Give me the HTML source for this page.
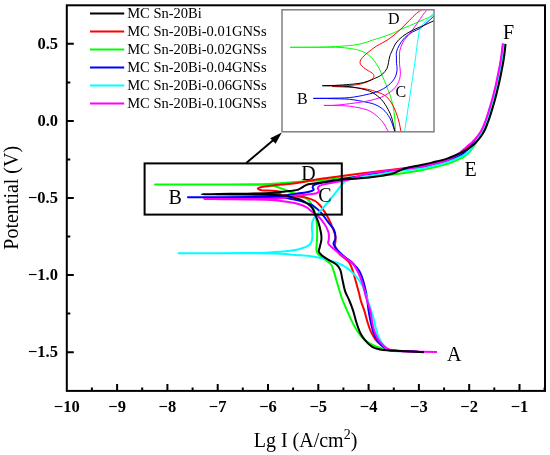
<!DOCTYPE html>
<html><head><meta charset="utf-8"><title>Polarization curves</title>
<style>
html,body{margin:0;padding:0;background:#fff;}
body{width:550px;height:455px;overflow:hidden;}
svg{display:block;}
text{font-family:"Liberation Serif","Times New Roman",serif;fill:#000;}
.tk{font-weight:bold;font-size:16.5px;}
.lg{font-size:14.5px;}
.ti{font-size:20px;}
.lb{font-size:20px;}
.il{font-size:16px;}
</style></head><body>
<svg width="550" height="455" viewBox="0 0 550 455">

<g fill="none" stroke-width="2" stroke-linejoin="round" stroke-linecap="butt">
<path stroke="#00ff00" d="M405.0 351.2C402.4 351.1 393.0 350.7 389.3 350.3C385.6 349.9 385.4 349.6 382.8 348.8C380.2 348.0 376.6 347.0 373.5 345.5C370.4 344.0 366.9 341.9 364.3 339.6C361.7 337.3 359.7 334.6 357.7 331.7C355.7 328.8 354.2 325.9 352.4 322.4C350.6 318.9 348.8 314.3 347.1 310.6C345.5 306.9 343.6 302.9 342.5 300.0C341.4 297.1 341.3 296.8 340.3 293.5C339.3 290.2 337.5 284.0 336.4 280.3C335.3 276.6 334.6 273.7 333.7 271.1C332.8 268.5 332.6 266.5 331.1 264.5C329.6 262.5 326.6 260.9 324.5 259.2C322.4 257.5 319.9 256.0 318.5 254.5C317.1 253.0 316.6 252.6 316.4 250.1C316.1 247.6 316.9 243.5 317.0 239.6C317.1 235.7 317.2 230.5 317.0 226.4C316.8 222.3 316.4 218.3 315.7 215.2C315.0 212.0 313.8 209.7 312.9 207.5C311.9 205.3 311.1 203.3 310.0 201.8C308.9 200.3 307.2 199.2 306.0 198.3C304.8 197.4 304.1 196.9 302.5 196.2C300.9 195.5 298.4 194.6 296.7 194.0C295.0 193.4 294.6 193.5 292.4 192.7C290.2 191.9 287.0 190.5 283.6 189.3C280.2 188.1 275.9 186.3 272.0 185.5C268.1 184.7 272.0 184.8 260.0 184.7C248.0 184.5 217.5 184.6 200.0 184.6C182.5 184.6 155.0 184.6 155.0 184.6C155.0 184.6 182.5 184.6 200.0 184.5C217.5 184.4 246.7 184.5 260.0 184.3C273.3 184.1 275.0 183.5 280.0 183.2C285.0 182.9 286.7 182.7 290.0 182.5C293.3 182.3 295.0 182.2 300.0 181.8C305.0 181.4 313.3 180.9 320.0 180.3C326.7 179.7 331.8 178.9 340.0 178.2C348.2 177.5 360.6 176.8 369.1 176.2C377.6 175.6 382.2 175.7 390.9 174.7C399.6 173.7 414.0 171.4 421.0 170.2C428.1 169.0 429.1 168.4 433.2 167.5C437.2 166.5 442.3 165.3 445.4 164.4C448.5 163.5 449.8 162.9 451.8 162.2C453.7 161.5 455.1 160.9 456.9 160.1C458.8 159.3 460.9 158.6 462.6 157.6C464.3 156.6 465.8 155.3 467.1 154.3C468.3 153.3 468.7 153.1 469.9 151.5C471.2 149.9 473.3 146.8 474.7 144.7C476.1 142.6 477.1 140.7 478.4 138.9C479.7 137.0 481.2 135.3 482.3 133.5C483.4 131.8 484.1 130.3 485.0 128.3C485.9 126.3 486.9 123.7 487.7 121.3C488.6 119.0 489.0 117.9 490.1 114.3C491.2 110.8 493.1 104.6 494.4 99.9C495.7 95.1 496.8 90.6 497.9 85.9C499.0 81.2 500.0 76.6 500.9 71.9C501.8 67.2 502.7 62.6 503.4 57.9C504.1 53.3 504.8 46.3 505.1 43.9"/>
<path stroke="#ff0000" d="M415.0 351.5C411.7 351.4 399.7 351.0 395.0 350.6C390.3 350.2 388.9 349.9 386.7 349.0C384.4 348.1 383.4 347.1 381.5 345.5C379.6 343.9 377.3 341.9 375.5 339.6C373.7 337.3 372.2 334.6 370.9 331.7C369.6 328.8 368.7 325.9 367.6 322.4C366.5 318.9 365.5 314.3 364.3 310.6C363.1 306.9 361.5 303.1 360.6 300.0C359.7 296.9 359.7 295.5 358.8 292.2C357.9 288.9 356.5 283.8 355.5 280.3C354.5 276.8 353.9 274.0 352.9 271.1C351.9 268.2 351.0 265.4 349.6 263.2C348.2 261.0 346.0 259.4 344.3 257.9C342.6 256.4 340.8 255.4 339.5 254.0C338.2 252.6 337.2 251.0 336.4 249.5C335.6 248.0 335.0 246.3 334.9 244.9C334.8 243.5 335.5 242.7 335.5 240.9C335.5 239.1 335.7 237.2 334.9 234.3C334.1 231.4 332.3 227.0 330.9 223.7C329.5 220.4 327.7 216.9 326.3 214.5C324.9 212.1 323.7 210.6 322.7 209.2C321.7 207.8 321.8 207.3 320.5 205.9C319.2 204.5 317.5 202.4 315.1 201.0C312.8 199.6 309.2 198.4 306.4 197.6C303.5 196.8 301.6 196.8 298.0 196.4C294.4 196.0 291.3 195.5 285.0 195.2C278.7 194.9 268.3 194.8 260.0 194.7C251.7 194.6 242.3 194.5 235.0 194.4C227.7 194.3 216.0 194.4 216.0 194.3C216.0 194.2 227.7 194.1 235.0 194.0C242.3 193.9 253.2 193.9 260.0 193.8C266.8 193.7 272.5 193.6 276.0 193.4C279.5 193.2 280.5 192.9 281.0 192.6C281.5 192.3 280.4 191.9 279.0 191.6C277.6 191.3 275.6 190.9 272.7 190.7C269.8 190.5 264.3 190.5 261.8 190.2C259.3 189.8 257.8 189.1 257.8 188.6C257.8 188.1 259.3 187.4 261.8 186.9C264.3 186.4 268.7 185.9 272.7 185.4C276.7 184.9 281.4 184.7 286.0 184.2C290.6 183.7 294.3 183.3 300.0 182.4C305.7 181.5 313.3 180.0 320.0 179.0C326.7 178.0 331.8 177.4 340.0 176.3C348.2 175.2 359.4 173.7 369.1 172.5C378.8 171.3 389.7 169.9 398.2 168.9C406.7 167.9 414.5 167.2 420.2 166.3C425.9 165.4 428.2 164.5 432.2 163.6C436.2 162.6 441.2 161.4 444.3 160.6C447.3 159.7 448.5 159.2 450.4 158.4C452.2 157.7 453.5 156.9 455.2 156.0C456.9 155.0 458.7 153.9 460.3 152.8C461.8 151.8 463.3 150.5 464.5 149.6C465.6 148.7 465.8 148.6 467.1 147.4C468.5 146.2 471.0 144.1 472.7 142.5C474.3 140.9 475.7 139.4 477.0 137.7C478.4 136.1 479.7 134.3 480.8 132.6C481.8 130.9 482.5 129.5 483.4 127.6C484.3 125.6 485.2 123.0 486.0 120.7C486.9 118.4 487.3 117.4 488.4 113.8C489.5 110.3 491.4 104.1 492.7 99.4C494.0 94.7 495.1 90.1 496.2 85.5C497.2 80.8 498.2 76.2 499.1 71.6C500.1 66.9 500.9 62.3 501.6 57.7C502.3 53.0 503.0 46.0 503.3 43.7"/>
<path stroke="#0000ff" d="M418.0 351.6C414.2 351.5 400.0 351.2 395.0 350.8C390.0 350.4 390.0 350.3 388.0 349.5C386.0 348.7 384.7 347.8 382.8 346.2C380.9 344.6 378.4 342.0 376.8 339.6C375.2 337.2 374.2 334.6 373.2 331.7C372.2 328.8 371.6 325.9 370.8 322.4C370.0 318.9 369.2 314.3 368.6 310.6C368.0 306.9 367.7 303.1 367.3 300.0C366.9 296.9 366.6 295.2 366.0 292.2C365.4 289.1 364.6 285.2 363.5 281.7C362.4 278.2 361.1 274.2 359.3 271.1C357.5 268.0 355.1 265.5 352.8 263.2C350.5 260.9 347.5 259.2 345.4 257.5C343.3 255.8 341.8 254.5 340.1 252.8C338.5 251.1 336.6 249.1 335.5 247.5C334.4 245.9 333.5 245.0 333.5 243.5C333.5 242.0 335.4 240.5 335.5 238.3C335.6 236.1 335.4 233.0 334.2 230.3C333.0 227.7 330.6 225.5 328.3 222.4C326.0 219.3 322.8 214.6 320.3 211.9C317.8 209.2 315.3 207.3 313.5 206.0C311.7 204.7 311.7 205.1 309.6 204.3C307.5 203.5 304.2 201.9 300.9 201.0C297.6 200.1 293.0 199.4 290.0 198.8C287.0 198.2 289.4 197.9 282.7 197.7C276.0 197.4 265.8 197.4 250.0 197.3C234.2 197.2 188.0 197.4 188.0 197.3C188.0 197.2 234.7 197.2 250.0 197.0C265.3 196.8 273.3 196.8 280.0 196.4C286.7 196.0 286.5 195.2 290.0 194.6C293.5 194.0 297.7 193.6 300.9 193.1C304.1 192.6 306.9 192.4 309.0 191.8C311.1 191.2 313.0 190.5 313.6 189.8C314.2 189.1 312.6 188.2 312.6 187.4C312.6 186.6 312.8 185.8 313.8 185.2C314.8 184.5 316.0 184.1 318.4 183.5C320.8 182.9 324.4 182.1 328.2 181.4C332.0 180.7 334.5 180.5 341.3 179.4C348.1 178.3 359.6 176.2 369.1 174.7C378.6 173.2 389.6 171.6 398.2 170.4C406.8 169.2 414.8 168.6 420.5 167.7C426.2 166.7 428.5 165.9 432.6 164.9C436.6 164.0 441.6 162.8 444.6 161.9C447.7 161.0 449.0 160.4 450.8 159.8C452.7 159.1 454.2 158.5 455.9 157.7C457.7 156.9 459.7 156.0 461.3 154.9C462.9 153.8 464.3 152.4 465.4 151.4C466.6 150.4 466.9 150.3 468.2 148.9C469.4 147.5 471.4 144.6 472.9 142.8C474.4 141.0 475.9 139.6 477.2 137.9C478.6 136.3 479.9 134.4 481.0 132.7C482.1 131.0 482.8 129.7 483.7 127.7C484.6 125.7 485.5 123.1 486.3 120.8C487.2 118.5 487.6 117.5 488.7 113.9C489.8 110.3 491.7 104.2 493.0 99.5C494.3 94.7 495.4 90.2 496.4 85.5C497.5 80.9 498.5 76.3 499.4 71.6C500.4 67.0 501.2 62.3 501.9 57.7C502.6 53.1 503.3 46.1 503.6 43.8"/>
<path stroke="#00ffff" d="M400.0 351.2C398.2 351.1 392.2 351.5 389.5 350.6C386.8 349.7 385.7 347.9 384.0 346.0C382.3 344.1 380.8 341.7 379.5 339.0C378.2 336.3 377.2 333.2 376.3 330.0C375.4 326.8 374.9 323.3 374.0 320.0C373.1 316.7 372.1 313.3 371.0 310.0C369.9 306.7 368.8 303.5 367.6 300.1C366.5 296.7 365.4 292.7 364.1 289.6C362.9 286.5 361.6 284.1 360.1 281.7C358.6 279.3 357.1 277.4 354.9 275.1C352.7 272.8 350.0 269.9 346.9 267.8C343.8 265.7 340.3 264.0 336.4 262.5C332.4 261.0 327.6 259.7 323.2 258.6C318.8 257.5 313.9 256.4 310.0 255.9C306.1 255.3 303.3 255.6 300.0 255.3C296.7 255.1 294.2 254.7 290.0 254.4C285.8 254.1 281.7 253.6 275.0 253.4C268.3 253.2 266.1 253.2 250.0 253.2C233.9 253.2 178.5 253.2 178.5 253.2C178.5 253.2 234.9 253.2 250.0 253.1C265.1 253.0 262.3 252.9 269.0 252.5C275.7 252.1 284.7 251.4 290.0 250.8C295.3 250.2 297.5 249.7 300.6 248.8C303.7 247.9 306.6 246.8 308.5 245.5C310.4 244.2 311.2 242.8 311.8 240.9C312.4 239.0 312.4 236.7 312.4 234.3C312.4 231.9 311.7 228.8 311.8 226.4C311.9 224.0 312.2 221.8 313.1 219.8C314.0 217.8 315.4 216.5 317.0 214.5C318.6 212.5 320.8 210.5 323.0 207.9C325.2 205.3 328.1 201.9 330.5 199.0C332.9 196.1 335.8 192.5 337.6 190.2C339.4 187.9 340.3 186.6 341.5 185.2C342.7 183.8 343.4 182.5 344.6 181.6C345.9 180.7 347.4 180.2 349.0 179.6C350.6 179.0 349.9 178.7 354.5 177.9C359.1 177.1 369.1 175.8 376.4 174.7C383.7 173.6 390.8 172.1 398.2 171.1C405.6 170.1 414.9 169.5 420.7 168.6C426.5 167.8 428.8 166.9 432.8 165.9C436.8 164.9 441.9 163.7 444.9 162.9C448.0 162.0 449.3 161.4 451.2 160.7C453.1 160.0 454.5 159.4 456.3 158.6C458.1 157.9 460.2 157.0 461.9 156.2C463.6 155.3 465.3 154.3 466.6 153.4C467.8 152.5 468.2 152.2 469.4 150.7C470.7 149.2 472.9 146.4 474.3 144.3C475.7 142.2 476.5 140.2 477.7 138.3C478.9 136.4 480.4 134.8 481.5 133.1C482.6 131.3 483.3 129.9 484.2 127.9C485.1 125.9 486.0 123.3 486.9 121.0C487.7 118.7 488.1 117.6 489.3 114.1C490.4 110.5 492.3 104.4 493.6 99.6C494.8 94.9 496.0 90.3 497.0 85.7C498.1 81.0 499.1 76.4 500.0 71.7C500.9 67.1 501.8 62.4 502.5 57.8C503.2 53.1 503.9 46.2 504.2 43.8"/>
<path stroke="#ff00ff" d="M437.0 352.0C432.5 351.9 417.0 351.7 410.0 351.5C403.0 351.3 398.6 351.1 395.0 350.8C391.4 350.5 390.6 350.4 388.7 349.5C386.8 348.6 385.1 347.1 383.4 345.5C381.6 343.9 379.7 341.9 378.2 339.6C376.7 337.3 375.5 334.6 374.5 331.7C373.5 328.8 372.9 325.9 372.2 322.4C371.5 318.9 371.1 314.3 370.2 310.6C369.3 306.9 367.7 302.6 366.9 300.0C366.1 297.4 366.1 297.5 365.4 294.9C364.7 292.3 363.9 287.8 362.8 284.3C361.7 280.8 360.4 277.0 358.8 273.7C357.2 270.4 355.5 266.9 353.5 264.5C351.5 262.1 348.9 260.7 346.7 259.0C344.5 257.3 342.5 256.0 340.1 254.1C337.7 252.2 334.2 249.3 332.2 247.5C330.2 245.7 328.9 245.0 328.3 243.5C327.8 242.0 328.9 240.3 328.9 238.3C328.9 236.3 329.1 234.1 328.3 231.7C327.5 229.3 326.1 226.3 324.3 223.7C322.5 221.0 320.1 218.1 317.7 215.8C315.3 213.5 311.6 211.3 309.8 209.9C308.0 208.5 308.5 208.2 306.7 207.3C304.9 206.4 302.2 205.2 299.1 204.3C296.0 203.4 292.8 202.8 288.2 202.1C283.6 201.4 278.2 200.3 271.8 199.9C265.4 199.5 261.3 199.5 250.0 199.4C238.7 199.3 204.0 199.2 204.0 199.1C204.0 199.0 237.3 199.1 250.0 199.0C262.7 198.9 273.3 198.7 280.0 198.3C286.7 197.9 285.6 197.0 290.0 196.4C294.4 195.8 302.0 195.2 306.4 194.7C310.8 194.2 314.4 194.0 316.5 193.3C318.6 192.7 318.7 191.6 318.9 190.8C319.1 190.0 317.9 189.2 317.8 188.5C317.8 187.8 317.8 187.2 318.6 186.6C319.4 185.9 320.2 185.3 322.7 184.6C325.2 183.9 330.3 183.1 333.6 182.5C336.9 181.9 339.7 181.4 342.4 180.8C345.1 180.2 345.6 180.4 350.0 179.2C354.4 177.9 361.1 174.9 369.1 173.3C377.1 171.7 389.7 170.7 398.2 169.6C406.7 168.5 414.6 167.7 420.3 166.8C426.0 165.8 428.3 165.0 432.4 164.1C436.4 163.1 441.4 161.9 444.4 161.0C447.4 160.1 448.7 159.6 450.4 158.7C452.2 157.8 453.6 156.9 455.2 155.9C456.8 154.9 458.6 153.7 460.1 152.6C461.6 151.4 463.1 150.1 464.2 149.1C465.3 148.2 465.3 147.9 466.7 146.8C468.1 145.6 470.7 143.7 472.3 142.1C474.0 140.6 475.3 139.1 476.6 137.4C478.0 135.8 479.3 134.0 480.3 132.3C481.4 130.6 482.1 129.3 482.9 127.4C483.8 125.4 484.7 122.8 485.6 120.5C486.4 118.3 486.8 117.2 487.9 113.7C489.0 110.1 490.9 104.0 492.2 99.3C493.5 94.5 494.6 90.0 495.7 85.4C496.7 80.7 497.7 76.1 498.6 71.5C499.6 66.8 500.4 62.2 501.1 57.6C501.8 52.9 502.5 46.0 502.8 43.7"/>
<path stroke="#000000" d="M424.0 352.2C420.0 352.0 405.8 351.3 400.0 351.0C394.2 350.7 392.6 350.8 389.3 350.5C386.0 350.2 383.0 350.1 380.1 349.5C377.2 348.9 374.6 348.2 372.2 346.8C369.8 345.4 367.6 343.2 365.6 340.9C363.6 338.6 361.8 336.1 360.3 333.0C358.8 329.9 357.6 326.1 356.4 322.4C355.2 318.7 354.3 314.3 353.1 310.6C351.9 306.9 350.5 303.3 349.1 300.0C347.8 296.7 346.1 294.4 345.0 290.9C343.9 287.4 343.1 282.5 342.3 279.0C341.5 275.5 341.3 272.2 340.3 269.8C339.3 267.4 338.4 266.1 336.4 264.5C334.4 262.9 330.9 261.4 328.5 259.9C326.1 258.4 323.6 256.9 322.0 255.5C320.4 254.1 319.2 252.8 318.8 251.5C318.4 250.2 319.3 249.5 319.7 247.5C320.1 245.5 321.2 242.0 321.4 239.6C321.6 237.2 321.5 235.9 321.0 233.0C320.5 230.1 319.4 225.5 318.4 222.4C317.4 219.3 316.1 216.8 315.1 214.5C314.1 212.2 313.7 210.1 312.5 208.3C311.3 206.6 309.9 205.4 308.0 204.0C306.1 202.6 303.4 201.0 301.0 199.9C298.6 198.8 296.5 198.4 293.6 197.7C290.7 197.0 289.2 196.1 283.6 195.6C278.0 195.1 268.9 194.8 260.0 194.6C251.1 194.4 239.7 194.3 230.0 194.2C220.3 194.1 201.6 194.2 201.6 194.1C201.6 194.0 220.3 193.9 230.0 193.8C239.7 193.7 252.5 193.6 260.0 193.4C267.5 193.2 270.8 192.9 275.0 192.6C279.2 192.3 282.2 191.7 285.0 191.4C287.8 191.1 289.9 190.9 292.0 190.7C294.1 190.4 295.9 190.4 297.5 189.9C299.1 189.4 300.2 188.5 301.5 187.8C302.8 187.1 303.6 186.2 305.0 185.6C306.4 185.0 307.6 184.5 309.6 184.1C311.7 183.7 314.2 183.4 317.3 183.0C320.4 182.6 324.2 182.0 328.2 181.4C332.2 180.8 336.9 179.8 341.3 179.4C345.7 179.0 349.9 179.1 354.5 178.8C359.1 178.5 364.2 178.2 369.1 177.6C374.0 177.0 379.5 176.2 383.6 175.5C387.7 174.8 390.9 174.2 393.8 173.3C396.7 172.4 398.7 170.8 401.1 169.8C403.5 168.8 405.2 168.2 408.4 167.5C411.5 166.8 416.1 166.1 420.0 165.3C423.9 164.5 428.0 163.6 432.0 162.6C436.0 161.6 441.0 160.4 444.0 159.6C447.0 158.8 448.2 158.2 450.0 157.5C451.8 156.8 453.3 156.2 455.0 155.5C456.7 154.8 458.7 153.9 460.4 153.1C462.1 152.3 463.7 151.3 465.0 150.6C466.3 149.9 466.6 149.9 468.1 148.8C469.6 147.7 472.4 145.8 474.2 144.2C476.0 142.6 477.4 140.9 478.8 139.2C480.2 137.5 481.6 135.6 482.7 133.8C483.8 132.0 484.6 130.6 485.5 128.5C486.4 126.5 487.3 123.8 488.2 121.5C489.1 119.2 489.5 118.1 490.6 114.5C491.7 110.9 493.6 104.8 494.9 100.0C496.2 95.2 497.3 90.7 498.4 86.0C499.5 81.3 500.5 76.7 501.4 72.0C502.3 67.3 503.2 62.7 503.9 58.0C504.6 53.3 505.3 46.3 505.6 44.0"/>
</g>
<rect x="66.8" y="5.3" width="478.2" height="385.6" fill="none" stroke="#000" stroke-width="2"/>
<path d="M91.9 391.0V387.5M117.1 391.0V384.0M142.2 391.0V387.5M167.4 391.0V384.0M192.6 391.0V387.5M217.7 391.0V384.0M242.8 391.0V387.5M268.0 391.0V384.0M293.1 391.0V387.5M318.3 391.0V384.0M343.4 391.0V387.5M368.6 391.0V384.0M393.8 391.0V387.5M418.9 391.0V384.0M444.1 391.0V387.5M469.2 391.0V384.0M494.3 391.0V387.5M519.5 391.0V384.0M544.6 391.0V387.5M66.8 352.2H73.8M66.8 313.6H70.3M66.8 275.1H73.8M66.8 236.6H70.3M66.8 198.0H73.8M66.8 159.4H70.3M66.8 120.9H73.8M66.8 82.4H70.3M66.8 43.8H73.8" stroke="#000" stroke-width="2" fill="none"/>
<text class="tk" x="66.8" y="412" text-anchor="middle">−10</text>
<text class="tk" x="117.1" y="412" text-anchor="middle">−9</text>
<text class="tk" x="167.4" y="412" text-anchor="middle">−8</text>
<text class="tk" x="217.7" y="412" text-anchor="middle">−7</text>
<text class="tk" x="268.0" y="412" text-anchor="middle">−6</text>
<text class="tk" x="318.3" y="412" text-anchor="middle">−5</text>
<text class="tk" x="368.6" y="412" text-anchor="middle">−4</text>
<text class="tk" x="418.9" y="412" text-anchor="middle">−3</text>
<text class="tk" x="469.2" y="412" text-anchor="middle">−2</text>
<text class="tk" x="519.5" y="412" text-anchor="middle">−1</text>
<text class="tk" x="58" y="48.7" text-anchor="end">0.5</text>
<text class="tk" x="58" y="125.8" text-anchor="end">0.0</text>
<text class="tk" x="58" y="202.9" text-anchor="end">−0.5</text>
<text class="tk" x="58" y="280.0" text-anchor="end">−1.0</text>
<text class="tk" x="58" y="357.1" text-anchor="end">−1.5</text>
<text class="ti" x="305.5" y="447.2" text-anchor="middle">Lg I (A/cm<tspan font-size="14" dy="-8.5">2</tspan><tspan dy="8.5">)</tspan></text>
<text class="ti" transform="translate(17.8 197.8) rotate(-90)" text-anchor="middle">Potential (V)</text>
<line x1="90" y1="13.6" x2="124.2" y2="13.6" stroke="#000000" stroke-width="2"/>
<text class="lg" x="127.2" y="18.4">MC Sn-20Bi</text>
<line x1="90" y1="31.6" x2="124.2" y2="31.6" stroke="#ff0000" stroke-width="2"/>
<text class="lg" x="127.2" y="36.4">MC Sn-20Bi-0.01GNSs</text>
<line x1="90" y1="49.6" x2="124.2" y2="49.6" stroke="#00ff00" stroke-width="2"/>
<text class="lg" x="127.2" y="54.4">MC Sn-20Bi-0.02GNSs</text>
<line x1="90" y1="67.6" x2="124.2" y2="67.6" stroke="#0000ff" stroke-width="2"/>
<text class="lg" x="127.2" y="72.4">MC Sn-20Bi-0.04GNSs</text>
<line x1="90" y1="85.6" x2="124.2" y2="85.6" stroke="#00ffff" stroke-width="2"/>
<text class="lg" x="127.2" y="90.4">MC Sn-20Bi-0.06GNSs</text>
<line x1="90" y1="103.6" x2="124.2" y2="103.6" stroke="#ff00ff" stroke-width="2"/>
<text class="lg" x="127.2" y="108.4">MC Sn-20Bi-0.10GNSs</text>
<text class="lb" x="447.0" y="361.0">A</text>
<text class="lb" x="168.5" y="204.3">B</text>
<text class="lb" x="318.2" y="202.0">C</text>
<text class="lb" x="301.3" y="179.5">D</text>
<text class="lb" x="464.5" y="175.8">E</text>
<text class="lb" x="503.0" y="38.5">F</text>
<rect x="144.6" y="163.4" width="197.2" height="51.2" fill="none" stroke="#000" stroke-width="2"/>
<line x1="246.3" y1="163" x2="274" y2="139.5" stroke="#000" stroke-width="2"/>
<polygon points="281.8,132.5 270.2,138.2 275.6,143.8" fill="#000"/>
<rect x="282" y="9.8" width="152" height="122" fill="#fff" stroke="#808080" stroke-width="1.5"/>
<defs><clipPath id="ic"><rect x="282.6" y="10.4" width="150.8" height="120.8"/></clipPath></defs>
<g fill="none" stroke-width="1" stroke-linejoin="round" clip-path="url(#ic)">
<path stroke="#00ff00" d="M395.5 132.0C395.4 129.6 395.1 122.0 394.7 117.7C394.3 113.4 393.7 109.8 393.0 106.2C392.3 102.6 391.4 99.2 390.5 96.3C389.6 93.4 388.4 91.0 387.6 89.0C386.8 87.0 386.7 86.1 385.8 84.0C384.9 81.9 383.6 78.9 382.5 76.3C381.4 73.7 380.3 70.8 379.2 68.6C378.1 66.4 377.2 64.9 375.9 63.1C374.6 61.3 373.1 59.2 371.5 57.6C369.9 56.0 367.9 54.4 366.0 53.2C364.1 52.0 361.9 51.3 360.0 50.6C358.1 49.9 357.8 49.7 354.5 49.2C351.2 48.7 345.8 47.7 340.0 47.4C334.2 47.1 328.3 47.3 320.0 47.3C311.7 47.3 290.0 47.3 290.0 47.3C290.0 47.3 311.7 47.3 320.0 47.1C328.3 46.9 333.6 46.8 340.0 46.3C346.4 45.8 352.1 45.6 358.2 44.4C364.3 43.2 371.9 40.3 376.4 38.9C380.9 37.5 382.0 37.3 385.0 36.2C388.0 35.1 391.8 33.7 394.5 32.5C397.2 31.3 397.6 30.9 401.5 29.2C405.4 27.5 412.7 24.4 418.0 22.1C423.3 19.8 430.4 16.8 433.4 15.5C436.4 14.2 435.6 14.6 436.0 14.4"/>
<path stroke="#ff0000" d="M401.1 132.0C400.7 130.2 399.7 124.5 398.8 121.0C397.9 117.5 396.7 114.1 395.5 111.1C394.3 108.1 393.2 105.5 391.4 102.9C389.6 100.3 387.6 97.3 384.8 95.4C382.1 93.5 378.2 92.4 374.9 91.3C371.6 90.2 369.1 89.5 365.0 88.8C360.9 88.1 355.5 87.7 350.0 87.3C344.5 86.9 333.0 86.7 332.2 86.4C331.4 86.2 340.7 86.1 345.0 85.8C349.3 85.5 354.3 85.2 357.8 84.6C361.3 84.0 363.8 83.1 366.0 82.3C368.2 81.5 369.9 80.8 371.2 79.9C372.5 79.0 373.6 78.0 373.9 77.0C374.2 76.0 373.8 74.6 372.8 73.6C371.9 72.5 369.7 71.7 368.2 70.7C366.7 69.7 364.9 68.6 363.6 67.6C362.3 66.6 361.2 65.5 360.6 64.5C360.0 63.5 359.9 62.6 360.1 61.6C360.3 60.6 360.9 59.5 361.6 58.5C362.3 57.5 363.1 56.8 364.2 55.8C365.3 54.8 366.0 54.0 368.0 52.4C370.0 50.8 372.9 48.5 376.4 46.2C379.9 44.0 385.2 41.6 389.1 38.9C393.0 36.2 396.7 32.8 400.0 29.8C403.3 26.8 406.4 23.4 409.1 20.7C411.8 18.0 414.3 15.3 416.4 13.5C418.5 11.7 420.6 10.6 421.8 9.8C423.0 9.0 423.2 8.7 423.5 8.5"/>
<path stroke="#0000ff" d="M395.0 132.0C394.7 131.0 393.9 128.3 393.0 125.9C392.1 123.5 391.3 120.5 389.7 117.7C388.1 115.0 385.6 111.6 383.1 109.4C380.6 107.2 377.8 105.7 374.9 104.5C372.0 103.3 370.2 103.0 366.0 102.1C361.8 101.2 355.5 99.9 349.5 99.3C343.5 98.7 336.1 98.8 330.0 98.6C323.9 98.4 313.2 98.5 313.2 98.4C313.2 98.3 323.9 98.3 330.0 98.2C336.1 98.1 343.5 98.2 349.5 97.6C355.5 97.0 361.2 95.8 366.0 94.7C370.8 93.7 374.5 92.8 378.2 91.3C381.9 89.8 385.4 87.7 388.1 85.5C390.9 83.3 393.2 80.7 394.7 78.1C396.2 75.5 396.8 72.4 397.1 69.9C397.4 67.4 396.6 65.5 396.5 63.3C396.4 61.1 396.4 58.9 396.4 57.0C396.4 55.1 396.0 53.8 396.5 51.8C397.0 49.8 397.9 47.6 399.3 45.2C400.7 42.8 402.6 39.7 404.8 37.5C407.0 35.3 409.8 33.6 412.5 32.0C415.2 30.4 418.7 29.4 421.3 27.6C423.9 25.9 426.0 23.3 428.0 21.5C430.0 19.7 432.1 17.8 433.4 16.6C434.7 15.4 435.6 14.8 436.0 14.5"/>
<path stroke="#00ffff" d="M404.5 132.0C405.5 125.3 408.7 104.0 410.5 92.0C412.3 80.0 414.1 67.6 415.2 60.0C416.3 52.4 416.4 50.0 416.9 46.3C417.4 42.6 417.8 40.4 418.2 38.0C418.6 35.6 418.6 33.9 419.1 32.0C419.6 30.1 420.0 28.5 421.3 26.5C422.6 24.5 424.8 22.1 426.8 19.9C428.8 17.7 431.9 14.8 433.4 13.3C434.9 11.8 435.6 11.4 436.0 11.0"/>
<path stroke="#ff00ff" d="M388.5 132.0C387.6 130.4 385.4 125.5 383.1 122.6C380.8 119.7 377.8 116.6 374.9 114.4C372.0 112.2 370.2 110.9 366.0 109.5C361.8 108.1 354.7 106.9 349.5 106.2C344.3 105.5 339.3 105.7 335.0 105.6C330.7 105.5 323.9 105.5 323.9 105.4C323.9 105.3 330.7 105.5 335.0 105.2C339.3 104.9 344.3 104.4 349.5 103.7C354.7 103.0 360.7 102.4 366.0 101.3C371.3 100.2 377.0 99.0 381.5 97.1C386.0 95.2 390.1 92.3 393.0 89.7C395.9 87.1 397.6 84.2 398.8 81.4C400.0 78.7 400.3 76.0 400.4 73.2C400.5 70.5 399.8 67.6 399.6 64.9C399.5 62.2 399.5 59.4 399.5 57.0C399.5 54.6 399.3 53.0 399.8 50.7C400.3 48.4 401.6 45.1 402.6 43.0C403.6 40.9 404.7 39.6 406.0 38.0C407.3 36.4 409.0 34.8 410.3 33.1C411.6 31.4 412.7 29.6 414.0 27.8C415.3 26.0 416.6 24.2 418.0 22.1C419.4 20.1 421.0 17.5 422.5 15.5C424.0 13.5 425.9 11.2 426.8 10.0C427.7 8.8 427.8 8.6 428.0 8.3"/>
<path stroke="#000000" d="M394.9 132.0C394.4 129.9 393.3 123.1 392.2 119.3C391.1 115.5 389.9 112.7 388.1 109.4C386.3 106.1 384.0 102.3 381.5 99.6C379.0 96.9 375.9 94.7 373.2 93.0C370.4 91.3 368.9 90.8 365.0 89.7C361.1 88.6 354.5 87.2 349.5 86.6C344.5 86.0 339.5 86.1 335.0 85.9C330.5 85.8 322.3 85.8 322.3 85.7C322.3 85.6 330.5 85.6 335.0 85.4C339.5 85.2 345.7 84.7 349.5 84.4C353.3 84.1 355.2 83.9 358.0 83.5C360.8 83.1 362.8 82.8 366.0 81.8C369.2 80.8 374.2 78.7 377.0 77.4C379.8 76.1 380.9 75.6 382.5 74.1C384.1 72.6 385.9 70.5 386.9 68.6C387.9 66.7 388.1 64.4 388.5 62.5C388.9 60.6 389.1 58.8 389.6 57.0C390.1 55.2 390.5 54.1 391.6 51.8C392.7 49.5 394.2 45.6 396.0 43.0C397.8 40.4 400.0 38.4 402.6 36.4C405.2 34.4 408.3 32.5 411.4 30.9C414.5 29.2 417.6 28.1 421.3 26.5C425.0 24.9 430.9 22.1 433.4 21.0C435.8 19.9 435.6 20.0 436.0 19.8"/>
</g>
<text class="il" x="297.0" y="103.8">B</text>
<text class="il" x="395.5" y="97.3">C</text>
<text class="il" x="388.0" y="24.4">D</text>
</svg>
</body></html>
